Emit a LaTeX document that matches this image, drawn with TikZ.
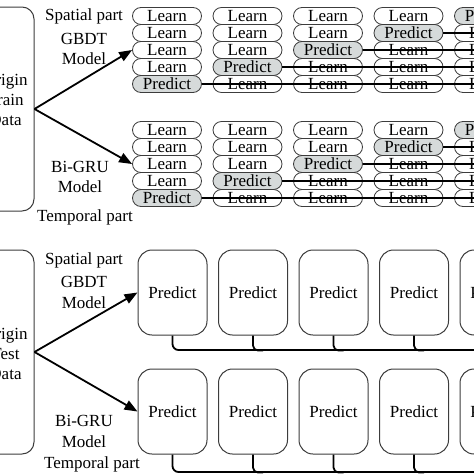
\documentclass[tikz,border=0pt]{standalone}
\usepackage{fontspec}
\setmainfont{Liberation Serif}
\usetikzlibrary{shapes.misc}
\usetikzlibrary{arrows.meta}
\definecolor{predfill}{RGB}{214,218,218}
\definecolor{rand}{RGB}{60,60,60}

\tikzset{
  pill/.style={rounded rectangle, draw=rand, line width=0.8pt, fill=white,
    minimum width=69pt, minimum height=17pt, inner sep=0pt,
    font=\fontsize{17}{20}\selectfont},
  predpill/.style={pill, fill=predfill},
  bigbox/.style={draw=rand, line width=1pt, rounded corners=14pt,
    minimum width=69pt, minimum height=85pt, inner sep=0pt,
    font=\fontsize{17}{20}\selectfont},
  databox/.style={draw=rand, line width=1pt, rounded corners=12pt,
    minimum width=57pt, minimum height=204pt},
  lbl/.style={font=\fontsize{17}{20}\selectfont, inner sep=0pt, align=center},
  strike/.style={black, line width=1.8pt},
  bus/.style={black, line width=1.8pt},
}

\begin{document}
\begin{tikzpicture}[x=1pt, y=-1pt, >={Triangle[length=13pt,width=10pt]}]
	\useasboundingbox (0,0) rectangle (474,474);
	\clip (0,0) rectangle (474,474);

	% train part
	\node[databox] (train) at (5.5,109) {};
	\node[lbl] (trainlbl) at (5.5,100) {Origin\\Train\\Data};

	\foreach \grp/\y in {sp/16, tp/130} {
		\foreach \c in {1,...,5} {
			\foreach \r in {1,...,5} {
				\pgfmathtruncatemacro{\p}{6-\c}
				\ifnum\r=\p
					\node[predpill] (\grp-\c-\r) at ({167+80.5*(\c-1)},{\y+17*(\r-1)}) {Predict};
				\else
					\node[pill] (\grp-\c-\r) at ({167+80.5*(\c-1)},{\y+17*(\r-1)}) {Learn};
				\fi
			}
		}
	}

	\foreach \grp in {sp,tp} {
		\foreach \c in {1,...,4} {
			\pgfmathtruncatemacro{\r}{6-\c}
			\draw[strike] (\grp-\c-\r.east) -- (\grp-5-\r.east);
		}
	}

	\node[lbl] (trsp) at (84,16) {Spatial part};
	\node[lbl] (trgbdt) at (84,39) {GBDT};
	\node[lbl] (trgbdtm) at (84,59) {Model};
	\node[lbl] (trgru) at (80,167) {Bi-GRU};
	\node[lbl] (trgrum) at (80,187) {Model};
	\node[lbl] (trtp) at (85,217) {Temporal part};

	\draw[->, line width=1.8pt] (train.east) -- (sp-1-3.west);
	\draw[->, line width=1.8pt] (train.east) -- (tp-1-3.west);

	% test part
	\node[databox] (test) at (5.5,352) {};
	\node[lbl] (testlbl) at (5.5,354) {Origin\\Test\\Data};

	\foreach \grp/\y in {spbox/292.5, tpbox/411.5} {
		\foreach \c in {1,...,5} {
			\node[bigbox] (\grp-\c) at ({172.5+80.5*(\c-1)},\y) {Predict};
		}
	}

	\coordinate (spbus) at (480,350);
	\coordinate (tpbus) at (480,472);
	\draw[bus, rounded corners=6pt] (spbox-1.south) |- (spbus);
	\draw[bus, rounded corners=6pt] (tpbox-1.south) |- (tpbus);
	\foreach \c in {2,...,5} {
		\draw[bus, rounded corners=5pt] (spbox-\c.south) |- ++(10,15);
		\draw[bus, rounded corners=5pt] (tpbox-\c.south) |- ++(10,18);
	}

	\node[lbl] (tesp) at (84,260) {Spatial part};
	\node[lbl] (tegbdt) at (84,282) {GBDT};
	\node[lbl] (tegbdtm) at (84,303) {Model};
	\node[lbl] (tegru) at (84,421) {Bi-GRU};
	\node[lbl] (tegrum) at (84,442) {Model};
	\node[lbl] (tetp) at (92,464) {Temporal part};

	\draw[->, line width=1.8pt] (test.east) -- (spbox-1.west);
	\draw[->, line width=1.8pt] (test.east) -- (tpbox-1.west);
\end{tikzpicture}
\end{document}
